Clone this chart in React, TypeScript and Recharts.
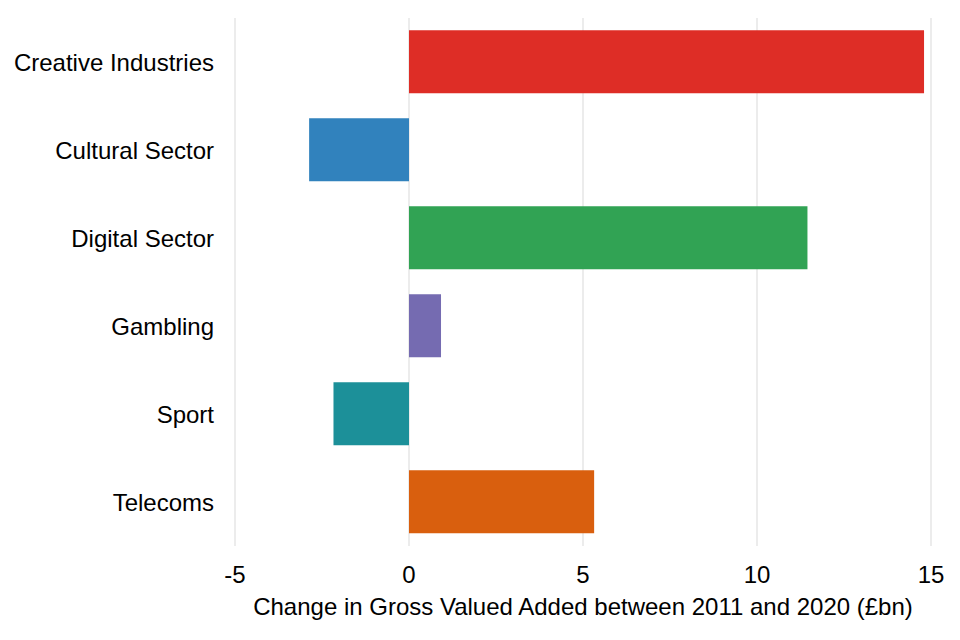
import { BarChart, Bar, XAxis, YAxis, CartesianGrid, Cell } from 'recharts';

const sectors = ['Creative Industries', 'Cultural Sector', 'Digital Sector', 'Gambling', 'Sport', 'Telecoms'];
const gvaChange = [14.8, -2.87, 11.45, 0.92, -2.17, 5.32];
const barColors = ['#DE2D26', '#3182BD', '#31A354', '#756BB1', '#1C9099', '#D95F0E'];
const xTicks = [-5, 0, 5, 10, 15];

const data = sectors.map((name, i) => ({ name, value: gvaChange[i] }));

const FONT = '"Liberation Sans", Arial, sans-serif';

export default function App() {
  return (
    <div style={{ width: 960, height: 640, background: '#fff' }}>
      <style>{`body{margin:0}`}</style>
      <BarChart
        width={960}
        height={640}
        data={data}
        layout="vertical"
        margin={{ top: 18, right: 29, bottom: 0, left: 0 }}
        barCategoryGap="14%"
      >
        <CartesianGrid vertical horizontal={false} stroke="#d9d9d9" />
        <XAxis
          type="number"
          domain={[-5, 15]}
          ticks={xTicks}
          axisLine={false}
          tickLine={false}
          tickSize={0}
          tickMargin={20}
          height={94}
          tick={{ fill: '#000', fontSize: 24, fontFamily: FONT }}
          label={{
            value: 'Change in Gross Valued Added between 2011 and 2020 (£bn)',
            position: 'insideBottom',
            offset: 25,
            fill: '#000',
            fontSize: 24,
            fontFamily: FONT,
          }}
        />
        <YAxis
          type="category"
          dataKey="name"
          width={235}
          axisLine={false}
          tickLine={false}
          tickSize={0}
          tickMargin={21}
          tick={{ fill: '#000', fontSize: 24, fontFamily: FONT }}
        />
        <Bar dataKey="value" isAnimationActive={false}>
          {data.map((d, i) => (
            <Cell key={d.name} fill={barColors[i]} />
          ))}
        </Bar>
      </BarChart>
    </div>
  );
}
